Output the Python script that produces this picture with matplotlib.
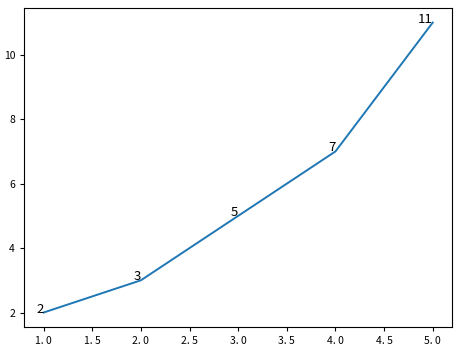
import matplotlib
matplotlib.use("Agg")
import matplotlib.pyplot as plt

plt.rcParams['font.family'] = ['Noto Sans CJK SC', 'DejaVu Sans']

x = [1, 2, 3, 4, 5]
y = [2, 3, 5, 7, 11]

fig = plt.figure(figsize=(4.74, 3.49), dpi=100)
ax = fig.add_axes([0.051, 0.063, 0.903, 0.914])
ax.plot(x, y, color='#1f77b4', linewidth=1.4)
for xi, yi in zip(x, y):
    ax.text(xi, yi, str(yi), ha='right', va='baseline', fontsize=9.5)
ax.set_xticks([1.0, 1.5, 2.0, 2.5, 3.0, 3.5, 4.0, 4.5, 5.0])
ax.set_xticklabels(['1. 0', '1. 5', '2. 0', '2. 5', '3. 0', '3. 5', '4. 0', '4. 5', '5. 0'])
ax.set_yticks([2, 4, 6, 8, 10])
ax.tick_params(labelsize=7.5, length=3)
ax.set_xlim(0.8, 5.2)
ax.set_ylim(1.55, 11.45)
fig.savefig('out.png', dpi=100)
